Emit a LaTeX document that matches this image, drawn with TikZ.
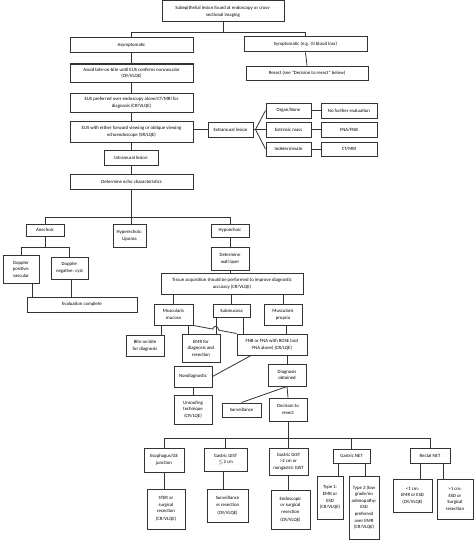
\documentclass[tikz,border=0pt]{standalone}
\usepackage{fontspec}
\setmainfont{Carlito}
\usetikzlibrary{calc}
\tikzset{
  box/.style={draw=black!80, line width=1pt, inner sep=0.5pt, align=center,
    font=\fontsize{4.8}{6.6}\selectfont, text=black},
  ln/.style={draw=black!80, line width=0.8pt}
}
\newcommand\mybox[6]{\node[box,minimum width={(#4-#2)*1pt},minimum height={(#5-#3)*1pt}] (#1) at ({(#2+#4)/2},{(#3+#5)/2}) {#6};}
\begin{document}
\begin{tikzpicture}[x=1pt,y=-1pt]
\useasboundingbox[fill=white] (0,0) rectangle (474,551);
\mybox{top}{162}{1}{284}{22}{Subepithelial lesion found at endoscopy or cross-\\sectional imaging}
\mybox{asym}{70}{38}{193}{53}{Asymptomatic}
\mybox{symp}{244}{37}{367}{52}{Symptomatic (e.g. GI blood loss)}
\mybox{resect}{246}{66}{368}{80}{Resect (see “Decision to resect” below)}
\mybox{avoid}{70}{64}{193}{82}{Avoid bite-on-bite until EUS confirms nonvascular\\(CR/VLQE)}
\mybox{euspref}{70}{93}{193}{112}{EUS preferred over endoscopy alone/CT/MRI for\\diagnosis (CR/VLQE)}
\mybox{euswith}{70}{121}{193}{142}{EUS with either forward viewing or oblique viewing\\echoendoscope (SR/LQE)}
\mybox{extra}{208}{122}{253}{137}{Extramural lesion}
\mybox{organ}{266}{103}{311}{118}{Organ/Bone}
\mybox{nofurther}{321}{103}{377}{118}{No further evaluation}
\mybox{extr}{266}{122}{311}{137}{Extrinsic mass}
\mybox{fna}{321}{122}{377}{137}{FNA/FNB}
\mybox{indet}{266}{142}{311}{156}{Indeterminate}
\mybox{ctmri}{321}{142}{377}{156}{CT/MRI}
\mybox{intra}{104}{150}{158}{165}{Intramural lesion}
\mybox{echo}{70}{174}{193}{189}{Determine echo characteristics}
\mybox{anech}{26}{224}{64}{236}{Anechoic}
\mybox{hyper}{113}{224}{146}{247}{Hyperechoic:\\Lipoma}
\mybox{hypo}{211}{224}{249}{237}{Hypoechoic}
\mybox{dpos}{3}{255}{39}{283}{Doppler\\positive:\\vascular}
\mybox{dneg}{51}{257}{88}{279}{Doppler\\negative: cyst}
\mybox{eval}{27}{297}{137}{312}{Evaluation complete}
\mybox{wall}{211}{247}{249}{270}{Determine\\wall layer}
\mybox{tissue}{161}{273}{303}{294}{Tissue acquisition should be performed to improve diagnostic\\accuracy (CR/VLQE)}
\mybox{mm}{154}{304}{193}{325}{Muscularis\\mucosa}
\mybox{sub}{213}{304}{250}{317}{Submucosa}
\mybox{mp}{264}{304}{302}{325}{Muscularis\\propria}
\mybox{bite}{126}{335}{164}{356}{Bite on bite\\for diagnosis}
\mybox{emr}{182}{334}{220}{362}{EMR for\\diagnosis and\\resection}
\mybox{fnb}{237}{334}{307}{355}{FNB or FNA with ROSE (not\\FNA alone) (CR/LQE)}
\mybox{nondiag}{174}{366}{212}{387}{Nondiagnostic}
\mybox{unroof}{174}{395}{212}{424}{Unroofing\\technique\\(CR/LQE)}
\mybox{diag}{268}{364}{306}{386}{Diagnosis\\obtained}
\mybox{surv}{222}{403}{261}{417}{Surveillance}
\mybox{decision}{269}{398}{307}{421}{Decision to\\resect}
\mybox{eso}{144}{448}{184}{472}{Esophagus/GE\\junction}
\mybox{ster}{147}{489}{185}{529}{STER or\\surgical\\resection\\[1.5pt](CR/VLQE)}
\mybox{gist1}{204}{448}{247}{471}{Gastric GIST\\$\leq$2 cm}
\mybox{surv2}{207}{489}{248}{522}{Surveillance\\vs resection\\[1.5pt](CR/VLQE)}
\mybox{gist2}{269}{448}{308}{475}{Gastric GIST\\>2 cm or\\nongastric GIST}
\mybox{endo}{271}{490}{310}{529}{Endoscopic\\or surgical\\resection\\[1.5pt](CR/VLQE)}
\mybox{gnet}{333}{449}{370}{463}{Gastric NET}
\mybox{type1}{317}{476}{343}{519}{Type 1:\\EMR or\\ESD\\(CR/VLQE)}
\mybox{type3}{349}{476}{379}{539}{Type 3 (low\\grade/no\\adenopathy:\\ESD\\preferred\\over EMR\\(CR/VLQE)}
\mybox{rnet}{410}{448}{450}{463}{Rectal NET}
\mybox{lt1}{393}{479}{432}{512}{<1 cm:\\EMR or ESD\\(CR/VLQE)}
\mybox{gt1}{437}{479}{473}{519}{>1 cm:\\ESD or\\Surgical\\resection}

% top split
\draw[ln] (top.south) -- ++(0,10) coordinate (j1);
\draw[ln] (asym.north) |- (j1) -| (symp.north);
\draw[ln] (symp.south) -- (resect.north);
\draw[ln] (asym.south) -- (avoid.north);
\draw[ln] (avoid.south) -- (euspref.north);
\draw[ln] (euspref.south) -- (euswith.north);
% extramural
\draw[ln] (extra.west) -- (extra.west -| euswith.east);
\draw[ln] (extra.east) -- ++(2,0) coordinate (fan);
\draw[ln] (fan) -- (organ.west);
\draw[ln] (fan) -- (extr.west);
\draw[ln] (fan) -- (indet.west);
\draw[ln] (organ.east) -- (nofurther.west);
\draw[ln] (extr.east) -- (fna.west);
\draw[ln] (indet.east) -- (ctmri.west);
% intramural
\draw[ln] (euswith.south) -- (euswith.south |- intra.north);
\draw[ln] (echo.north) -- (echo.north |- intra.south);
\draw[ln] (echo.south) -- ++(0,28) coordinate (jE);
\draw[ln] (anech.north) |- (jE) -| (hypo.north);
\draw[ln] (jE) -- (jE |- hyper.north);
% anechoic
\draw[ln] (anech.south) -- ++(0,11) coordinate (jA);
\draw[ln] (dpos.north) |- (jA) -| (dneg.north);
\draw[ln] ([xshift=11]dpos.south) -- ([xshift=11]dpos.south |- eval.north);
\draw[ln] ([xshift=2]dneg.south) -- ([xshift=2]dneg.south |- eval.north);
% hypoechoic
\draw[ln] (hypo.south) -- (wall.north);
\draw[ln] (wall.south) -- (wall.south |- tissue.north);
\draw[ln] (mm.north) -- (mm.north |- tissue.south);
\draw[ln] (sub.north) -- (sub.north |- tissue.south);
\draw[ln] (mp.north) -- (mp.north |- tissue.south);
% layers
\draw[ln] ([xshift=-12.5]mm.south) -- ([xshift=-12.5]mm.south |- bite.north);
\draw[ln] ([xshift=14.5]mm.south) -- ([xshift=14.5]mm.south |- emr.north);
\draw[ln] ([xshift=-15.5]sub.south) -- ([xshift=-15.5]sub.south |- emr.north);
\draw[ln] ([xshift=11.5]sub.south) -- ([xshift=11.5]sub.south |- fnb.north);
\draw[ln] ([xshift=3]mp.south) -- ([xshift=3]mp.south |- fnb.north);
\coordinate (h1) at ($(mm.south east)!0.45!(fnb.north west)$);
\coordinate (h2) at ($(mm.south east)!0.59!(fnb.north west)$);
\draw[ln] (mm.south east) -- (h1) .. controls ($(h1)+(1,-4.5)$) and ($(h2)+(-1,-4.5)$) .. (h2) -- (fnb.north west);
% fnb results
\draw[ln] ([xshift=-21]fnb.south) -- (nondiag.east);
\draw[ln] (diag.north) -- (diag.north |- fnb.south);
\draw[ln] (nondiag.south) -- (unroof.north);
\draw[ln] (diag.south) -- (surv.north);
\draw[ln] (diag.south) -- (decision.north);
% resection branches
\draw[ln] (decision.south) -- ++(0,17) coordinate (jD);
\draw[ln] (eso.north) |- (jD) -| (rnet.north);
\draw[ln] (gist1.north) -- (gist1.north |- jD);
\draw[ln] (gist2.north) -- (gist2.north |- jD);
\draw[ln] (gnet.north) -- (gnet.north |- jD);
\draw[ln] (eso.south) -- (eso.south |- ster.north);
\draw[ln] ([xshift=-2.5]gist1.south) -- ([xshift=-2.5]gist1.south |- surv2.north);
\draw[ln] (gist2.south) -- (gist2.south |- endo.north);
\draw[ln] ([xshift=-13.5]gnet.south) -- ([xshift=-13.5]gnet.south |- type1.north);
\draw[ln] ([xshift=13.5]gnet.south) -- ([xshift=13.5]gnet.south |- type3.north);
\draw[ln] ([xshift=-10]rnet.south) -- ([xshift=-10]rnet.south |- lt1.north);
\draw[ln] ([xshift=13]rnet.south) -- ([xshift=13]rnet.south |- gt1.north);
\end{tikzpicture}
\end{document}
